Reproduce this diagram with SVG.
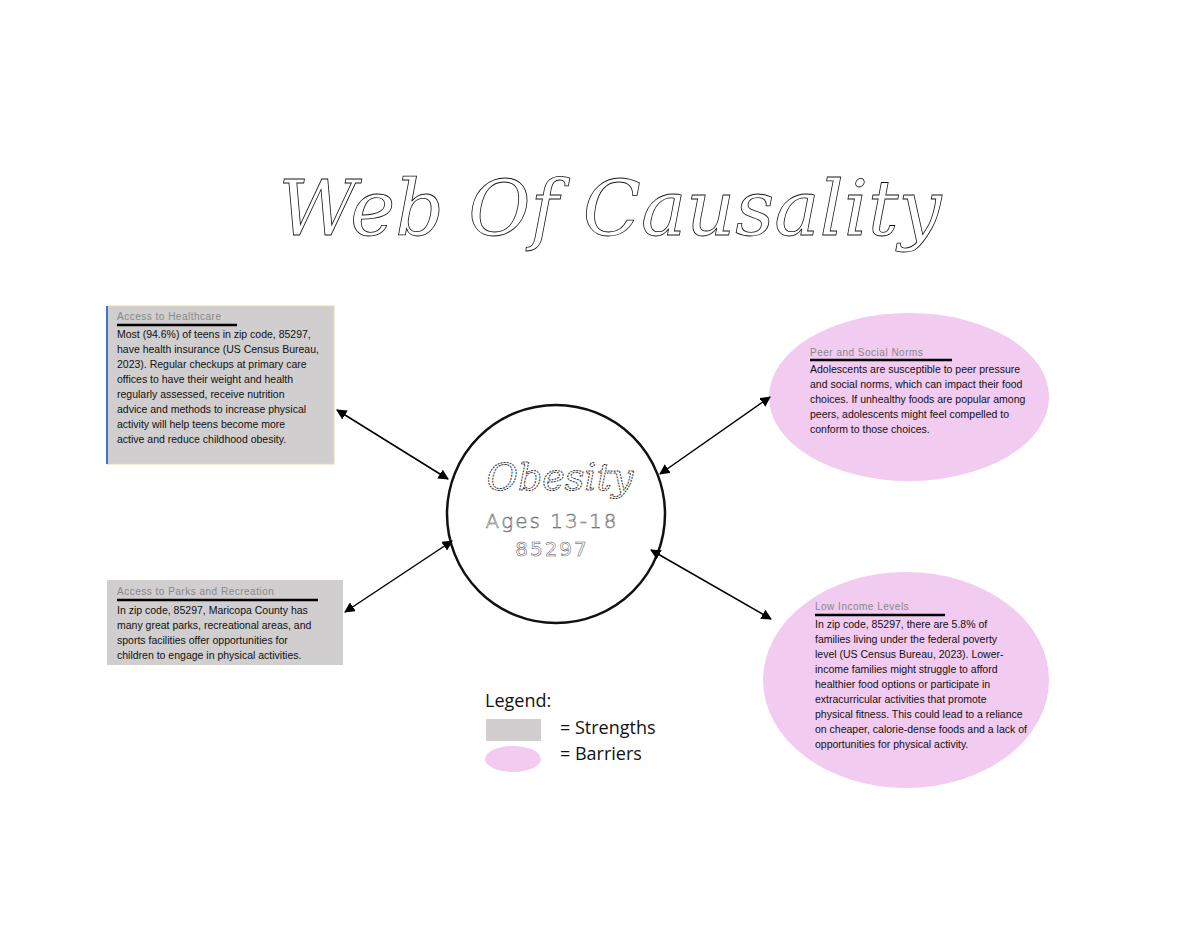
<svg xmlns="http://www.w3.org/2000/svg" width="1200" height="927" viewBox="0 0 1200 927">
<defs>
<marker id="ah" viewBox="0 0 10 10" refX="9" refY="5" markerWidth="7" markerHeight="7" orient="auto-start-reverse"><path d="M0,0 L10,5 L0,10 z" fill="#000"/></marker>
</defs>
<style>
.b{font-family:"Liberation Sans",Arial,sans-serif;font-size:10.5px;fill:#111}
.h{font-family:"Liberation Sans",Arial,sans-serif;font-size:10px;fill:#888;letter-spacing:0.5px}
.ul{stroke:#000;stroke-width:2.5}
.c{stroke:#000;stroke-width:1.5;fill:none;marker-start:url(#ah);marker-end:url(#ah)}
.lg{font-family:"Open Sans","Liberation Sans",sans-serif;font-size:18px;fill:#111}
</style>
<rect width="1200" height="927" fill="#fff"/>
<text x="610" y="235" text-anchor="middle" font-family="'DejaVu Serif',serif" font-style="italic" font-size="76" fill="#fff" stroke="#111" stroke-width="0.8">Web Of Causality</text>
<g id="center">
<circle cx="556" cy="514" r="109" fill="#fff" stroke="#111" stroke-width="2.5"/>
<text x="560" y="490" text-anchor="middle" font-family="'DejaVu Serif',serif" font-style="italic" font-size="38" fill="#fff" stroke="#333" stroke-width="1" stroke-dasharray="2,1">Obesity</text>
<text x="552" y="528" text-anchor="middle" font-family="'DejaVu Sans',sans-serif" font-weight="300" font-size="20" fill="#fff" stroke="#555" stroke-width="0.5" letter-spacing="2">Ages 13-18</text>
<text x="552" y="556" text-anchor="middle" font-family="'DejaVu Sans',sans-serif" font-size="20" fill="#fff" stroke="#555" stroke-width="0.5" letter-spacing="2">85297</text>
</g>
<g id="n1">
<rect x="107" y="306" width="227" height="158" fill="#d0cece" stroke="#e6d9a8" stroke-width="1"/>
<line x1="107" y1="306" x2="107" y2="464" stroke="#4472c4" stroke-width="2"/>
<text class="h" x="117" y="320">Access to Healthcare</text>
<line class="ul" x1="117" y1="325" x2="237" y2="325"/>
<text class="b"><tspan x="117" y="338">Most (94.6%) of teens in zip code, 85297,</tspan><tspan x="117" y="353">have health insurance (US Census Bureau,</tspan><tspan x="117" y="368">2023). Regular checkups at primary care</tspan><tspan x="117" y="383">offices to have their weight and health</tspan><tspan x="117" y="398">regularly assessed, receive nutrition</tspan><tspan x="117" y="413">advice and methods to increase physical</tspan><tspan x="117" y="428">activity will help teens become more</tspan><tspan x="117" y="443">active and reduce childhood obesity.</tspan></text>
</g>
<g id="n2">
<rect x="107" y="580" width="236" height="85" fill="#d0cece"/>
<text class="h" x="117" y="595">Access to Parks and Recreation</text>
<line class="ul" x1="117" y1="600" x2="318" y2="600"/>
<text class="b"><tspan x="117" y="614">In zip code, 85297, Maricopa County has</tspan><tspan x="117" y="629">many great parks, recreational areas, and</tspan><tspan x="117" y="644">sports facilities offer opportunities for</tspan><tspan x="117" y="659">children to engage in physical activities.</tspan></text>
</g>
<g id="n3">
<ellipse cx="909" cy="397" rx="140" ry="84" fill="#f1cbf0"/>
<text class="h" x="810" y="356">Peer and Social Norms</text>
<line class="ul" x1="810" y1="360" x2="952" y2="360"/>
<text class="b"><tspan x="810" y="373">Adolescents are susceptible to peer pressure</tspan><tspan x="810" y="388">and social norms, which can impact their food</tspan><tspan x="810" y="403">choices. If unhealthy foods are popular among</tspan><tspan x="810" y="418">peers, adolescents might feel compelled to</tspan><tspan x="810" y="433">conform to those choices.</tspan></text>
</g>
<g id="n4">
<ellipse cx="906" cy="680" rx="143" ry="108" fill="#f1cbf0"/>
<text class="h" x="815" y="610">Low Income Levels</text>
<line class="ul" x1="815" y1="615" x2="945" y2="615"/>
<text class="b"><tspan x="815" y="628">In zip code, 85297, there are 5.8% of</tspan><tspan x="815" y="643">families living under the federal poverty</tspan><tspan x="815" y="658">level (US Census Bureau, 2023). Lower-</tspan><tspan x="815" y="673">income families might struggle to afford</tspan><tspan x="815" y="688">healthier food options or participate in</tspan><tspan x="815" y="703">extracurricular activities that promote</tspan><tspan x="815" y="718">physical fitness. This could lead to a reliance</tspan><tspan x="815" y="733">on cheaper, calorie-dense foods and a lack of</tspan><tspan x="815" y="748">opportunities for physical activity.</tspan></text>
</g>
<g id="connectors">
<line class="c" x1="337" y1="410" x2="448" y2="479"/>
<line class="c" x1="345" y1="612" x2="452" y2="541"/>
<line class="c" x1="770" y1="397" x2="660" y2="474"/>
<line class="c" x1="771" y1="619" x2="651" y2="550"/>
</g>
<g id="legend">
<text class="lg" x="485" y="707">Legend:</text>
<rect x="486" y="719" width="55" height="22" fill="#d0cece"/>
<text class="lg" x="560" y="734">= Strengths</text>
<ellipse cx="513" cy="759" rx="28" ry="13" fill="#f1cbf0"/>
<text class="lg" x="560" y="760">= Barriers</text>
</g>
</svg>
